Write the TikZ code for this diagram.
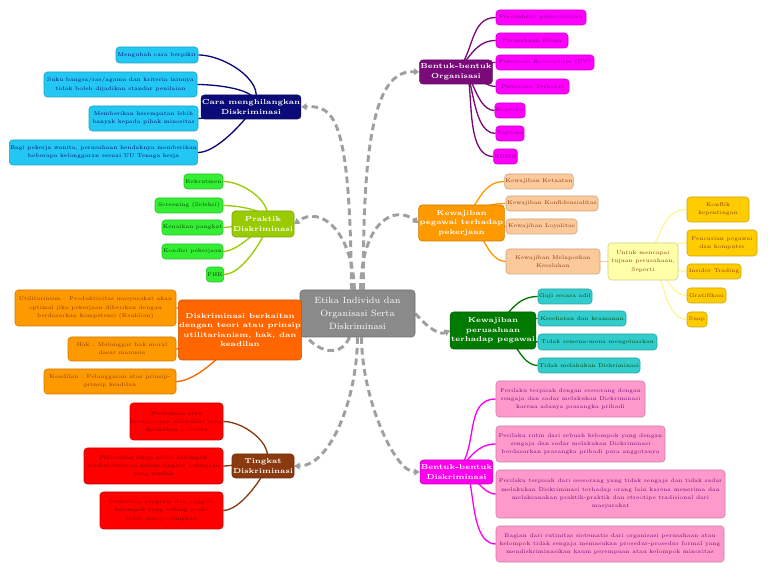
\documentclass[tikz,border=0pt]{standalone}
\usetikzlibrary{backgrounds,arrows.meta,calc}
\definecolor{navy}{HTML}{0A0A78}
\definecolor{cgray}{HTML}{8A8A8A}
\definecolor{cyanb}{HTML}{22C8F2}
\definecolor{purp}{HTML}{7A0A7A}
\definecolor{mag}{HTML}{FF00FF}
\definecolor{orng}{HTML}{FF9900}
\definecolor{peach}{HTML}{FCC99B}
\definecolor{lyel}{HTML}{FFFFA8}
\definecolor{gold}{HTML}{FFCC00}
\definecolor{dgreen}{HTML}{007A00}
\definecolor{teal}{HTML}{33CCCC}
\definecolor{pinkb}{HTML}{FF99CC}
\definecolor{magh}{HTML}{FF00EE}
\definecolor{brown}{HTML}{8B3A0F}
\definecolor{redb}{HTML}{FF0000}
\definecolor{orred}{HTML}{FF6600}
\definecolor{amber}{HTML}{FF9900}
\definecolor{ygreen}{HTML}{99CC00}
\definecolor{lgreen}{HTML}{33EE33}
\definecolor{lyline}{HTML}{FFF59A}
\newcommand\bx[7]{\node[#1,minimum width={(#5-#3)*0.75pt},minimum height={(#6-#4)*0.75pt}] (#2) at ({(#3+#5)/2},{(#4+#6)/2}) {#7};}
\tikzset{
 base/.style={rounded corners=2.5pt,align=center,inner sep=0.6pt,draw=#1!80!black,line width=0.4pt},
 hub/.style={base=#1,fill=#1,text=white,font=\fontsize{5.4}{7.2}\selectfont\bfseries},
 leaf/.style={base=#1,fill=#1,font=\fontsize{4.1}{6.2}\selectfont},
 main/.style={draw=gray!75,line width=2.2pt,dash pattern=on 5pt off 3pt,-{Triangle[length=4pt,width=5pt]}},
 br/.style={draw=#1,line width=1pt},
}
\begin{document}
\begin{tikzpicture}[x=0.75pt,y=-0.75pt]
\useasboundingbox (0,0) rectangle (768,573);
% center
\bx{hub=cgray,font=\fontsize{6.8}{9.5}\selectfont,text=white}{cen}{300}{290}{415}{337}{Etika Individu dan\\Organisasi Serta\\Diskriminasi}
% Cara menghilangkan
\bx{hub=navy}{cara}{208}{95}{294}{119}{Cara menghilangkan\\Diskriminasi}
\bx{leaf=cyanb,text=navy}{c1}{116}{47}{198}{63}{Mengubah cara berpikir}
\bx{leaf=cyanb,text=navy}{c2}{44}{72}{197}{97}{Suku bangsa/ras/agama dan kriteria lainnya\\tidak boleh dijadikan standar penilaian}
\bx{leaf=cyanb,text=navy}{c3}{89}{106}{198}{131}{Memberikan kesempatan lebih\\banyak kepada pihak minoritas}
\bx{leaf=cyanb,text=navy}{c4}{10}{140}{197}{165}{Bagi pekerja wanita, perusahaan hendaknya memberikan\\beberapa kelonggaran sesuai UU Tenaga kerja}
% Bentuk Organisasi
\bx{hub=purp}{org}{425}{60}{487}{84}{Bentuk-bentuk\\Organisasi}
\bx{leaf=mag,text=purp}{o1}{496}{10}{586}{25}{Perusahaan perseorangan}
\bx{leaf=mag,text=purp}{o2}{496}{33}{568}{48}{Perusahaan Firma}
\bx{leaf=mag,text=purp}{o3}{496}{55}{594}{70}{Perseroan Komanditer (CV)}
\bx{leaf=mag,text=purp}{o4}{496}{79}{569}{94}{Perseroan Terbatas}
\bx{leaf=mag,text=purp}{o5}{496}{103}{524}{118}{Koperasi}
\bx{leaf=mag,text=purp}{o6}{496}{126}{524}{141}{Yayasan}
\bx{leaf=mag,text=purp}{o7}{496}{149}{515}{164}{BUMN}
% Kewajiban pegawai
\bx{hub=orng}{kpeg}{426}{205}{497}{241}{Kewajiban\\pegawai terhadap\\pekerjaan}
\bx{leaf=peach,text=brown}{p1}{506}{174}{572}{189}{Kewajiban Ketaatan}
\bx{leaf=peach,text=brown}{p2}{506}{196}{598}{211}{Kewajiban Konfidensialitas}
\bx{leaf=peach,text=brown}{p3}{506}{219}{577}{234}{Kewajiban Loyalitas}
\bx{leaf=peach,text=brown}{p4}{506}{249}{600}{274}{Kewajiban Melaporkan\\Kesalahan}
\bx{leaf=lyel,text=brown}{y0}{608}{243}{678}{280}{Untuk mencapai\\tujuan perusahaan,\\Seperti}
\bx{leaf=gold,text=brown}{g1}{687}{197}{749}{222}{Konflik\\kepentingan}
\bx{leaf=gold,text=brown}{g2}{687}{230}{757}{256}{Pencurian pegawai\\dan komputer}
\bx{leaf=gold,text=brown}{g3}{687}{264}{741}{279}{Insider Trading}
\bx{leaf=gold,text=brown}{g4}{687}{288}{726}{303}{Gratifikasi}
\bx{leaf=gold,text=brown}{g5}{687}{312}{707}{327}{Suap}
% Kewajiban perusahaan
\bx{hub=dgreen}{kper}{457}{312}{529}{349}{Kewajiban\\perusahaan\\terhadap pegawai}
\bx{leaf=teal,text=dgreen!60!black}{t1}{538}{289}{592}{304}{Gaji secara adil}
\bx{leaf=teal,text=dgreen!60!black}{t2}{538}{311}{626}{326}{Kesehatan dan keamanan}
\bx{leaf=teal,text=dgreen!60!black}{t3}{538}{334}{657}{350}{Tidak semena-mena mengeluarkan}
\bx{leaf=teal,text=dgreen!60!black}{t4}{538}{358}{640}{373}{Tidak melakukan Diskriminasi}
% Bentuk Diskriminasi
\bx{hub=magh}{bd}{426}{460}{487}{484}{Bentuk-bentuk\\Diskriminasi}
\bx{leaf=pinkb,text=purp}{b1}{496}{381}{645}{417}{Perilaku terpisah dengan seseorang dengan\\sengaja dan sadar melakukan Diskriminasi\\karena adanya prasangka pribadi}
\bx{leaf=pinkb,text=purp}{b2}{496}{426}{665}{462}{Perilaku rutin dari sebuah kelompok yang dengan\\sengaja dan sadar melakukan Diskriminasi\\berdasarkan prasangka pribadi para anggotanya}
\bx{leaf=pinkb,text=purp}{b3}{496}{470}{725}{518}{Perilaku terpisah dari seseorang yang tidak sengaja dan tidak sadar\\melakukan Diskriminasi terhadap orang lain karena menerima dan\\melaksanakan praktik-praktik dan streotipe tradisional dari\\masyarakat}
\bx{leaf=pinkb,text=purp}{b4}{496}{526}{724}{562}{Bagian dari rutinitas sistematis dari organisasi perusahaan atau\\kelompok tidak sengaja memasukan prosedur-prosedur formal yang\\mendiskriminasikan kaum perempuan atau kelompok minoritas}
% Tingkat
\bx{hub=brown}{ting}{232}{454}{294}{478}{Tingkat\\Diskriminasi}
\bx{leaf=redb,text=red!55!black}{r1}{130}{403}{223}{440}{Perbedaan atau\\kesenjangan nilai-nilai yang\\dilakukan individu}
\bx{leaf=redb,text=red!55!black}{r2}{84}{448}{223}{484}{Perbedaan sikap psikis kelompok\\berdiskriminasi dalam tingkat pekerjaan\\yang rendah}
\bx{leaf=redb,text=red!55!black}{r3}{100}{492}{223}{529}{Perbedaan program dan anggota\\kelompok yang sedang posisi\\tidak menguntungkan}
% Utilitarian
\bx{hub=orred}{util}{186}{300}{294}{360}{Diskriminasi berkaitan\\dengan teori atau prinsip\\utilitarianism, hak, dan\\keadilan}
\bx{leaf=amber,text=brown}{u1}{15}{290}{176}{326}{Utilitarinism : Produktivitas masyarakat akan\\optimal jika pekerjaan diberikan dengan\\berdasarkan kompetensi (Keahlian)}
\bx{leaf=amber,text=brown}{u2}{68}{337}{176}{361}{Hak : Melanggar hak moral\\dasar manusia}
\bx{leaf=amber,text=brown}{u3}{44}{369}{176}{394}{Keadilan : Pelanggaran atas prinsip-\\prinsip keadilan}
% Praktik
\bx{hub=ygreen}{prak}{232}{211}{294}{237}{Praktik\\Diskriminasi}
\bx{leaf=lgreen,text=dgreen!60!black}{k1}{184}{174}{223}{189}{Rekrutmen}
\bx{leaf=lgreen,text=dgreen!60!black}{k2}{155}{198}{223}{213}{Screening (Seleksi)}
\bx{leaf=lgreen,text=dgreen!60!black}{k3}{162}{220}{223}{235}{Kenaikan pangkat}
\bx{leaf=lgreen,text=dgreen!60!black}{k4}{162}{244}{223}{259}{Kondisi pekerjaan}
\bx{leaf=lgreen,text=dgreen!60!black}{k5}{207}{267}{223}{282}{PHK}
\begin{scope}[on background layer]
% main dashed
\draw[main] ($(cen.north)+(-6,0)$) .. controls (350,120) and (335,105) .. (cara.east);
\draw[main] ($(cen.north)+(6,0)$) .. controls (362,120) and (380,70) .. (org.west);
\draw[main] ($(cen.north)+(-3,0)$) .. controls (352,230) and (320,205) .. (prak.east);
\draw[main] ($(cen.north)+(3,0)$) .. controls (362,220) and (395,205) .. (kpeg.west);
\draw[main] (cen.east) .. controls (430,330) and (440,335) .. (kper.west);
\draw[main] ($(cen.south)+(-8,0)$) .. controls (340,360) and (315,350) .. (util.east);
\draw[main] (cen.south) .. controls (357,400) and (330,466) .. (ting.east);
\draw[main] ($(cen.south)+(4,0)$) .. controls (362,400) and (395,472) .. (bd.west);
% branches left side
\foreach \l in {c1,c2,c3,c4}{\draw[br=navy] (cara.center) to[in=0] (\l.east);}
\foreach \l in {u1,u2,u3}{\draw[br=orred] (util.center) to[in=0] (\l.east);}
\foreach \l in {r1,r2,r3}{\draw[br=brown] (ting.center) to[in=0] (\l.east);}
\foreach \l in {k1,k2,k3,k4,k5}{\draw[br=ygreen] (prak.center) to[in=0] (\l.east);}
% branches right side
\foreach \l in {o1,o2,o3,o4,o5,o6,o7}{\draw[br=purp] (org.center) to[in=180] (\l.west);}
\foreach \l in {p1,p2,p3,p4}{\draw[br=orng] (kpeg.center) to[in=180] (\l.west);}
\foreach \l in {t1,t2,t3,t4}{\draw[br=dgreen] (kper.center) to[in=180] (\l.west);}
\foreach \l in {b1,b2,b3,b4}{\draw[br=magh] (bd.center) to[in=180] (\l.west);}
\draw[br=peach] (p4.east) -- (y0.west);
\foreach \l in {g1,g2,g3,g4,g5}{\draw[br=lyline] (y0.center) to[in=180] (\l.west);}
\end{scope}
\end{tikzpicture}
\end{document}
